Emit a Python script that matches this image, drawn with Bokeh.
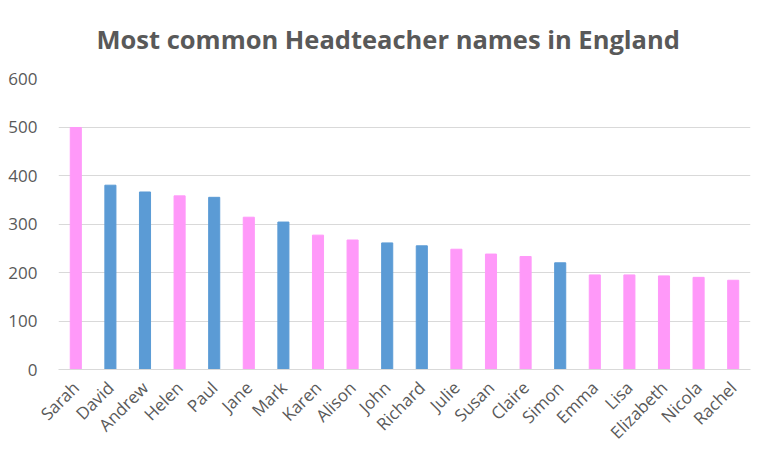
import math
from bokeh.plotting import figure
from bokeh.models import ColumnDataSource, FixedTicker, FactorRange, Range1d
from bokeh.embed import file_html
from bokeh.resources import INLINE

names = ["Sarah", "David", "Andrew", "Helen", "Paul", "Jane", "Mark", "Karen", "Alison", "John",
         "Richard", "Julie", "Susan", "Claire", "Simon", "Emma", "Lisa", "Elizabeth", "Nicola", "Rachel"]
counts = [499, 380, 366, 358, 355, 314, 304, 277, 267, 261,
          255, 248, 238, 233, 220, 195, 195, 193, 190, 184]
gender = ["F", "M", "M", "F", "M", "F", "M", "F", "F", "M",
          "M", "F", "F", "F", "M", "F", "F", "F", "F", "F"]
y_ticks = [0, 100, 200, 300, 400, 500, 600]

PINK = "#FF99F9"
BLUE = "#5B9BD5"
colors = [PINK if g == "F" else BLUE for g in gender]

source = ColumnDataSource(dict(names=names, counts=counts, colors=colors))

p = figure(frame_width=692, frame_height=291, output_backend="svg", toolbar_location=None,
           x_range=FactorRange(factors=names, range_padding=0),
           y_range=Range1d(0, 600),
           title="Most common Headteacher names in England")

p.vbar(x="names", top="counts", width=0.32, color="colors", source=source)

p.title.align = "left"
p.title.offset = 38
p.title.vertical_align = "top"
p.title.text_font = "Open Sans"
p.title.text_font_style = "bold"
p.title.text_font_size = "25.5px"
p.title.text_color = "#595959"
p.title.standoff = 42

p.min_border_top = 78
p.min_border_right = 10
p.min_border_left = 58
p.min_border_bottom = 83
p.outline_line_color = None
p.background_fill_color = "white"

p.xgrid.grid_line_color = None
p.ygrid.grid_line_color = "#D9D9D9"
p.ygrid.grid_line_width = 1

p.yaxis.ticker = FixedTicker(ticks=y_ticks)
p.yaxis.axis_line_color = None
p.yaxis.major_tick_line_color = None
p.yaxis.minor_tick_line_color = None
p.yaxis.major_label_text_font = "Open Sans"
p.yaxis.major_label_text_font_size = "17px"
p.yaxis.major_label_text_color = "#595959"
p.yaxis.major_label_standoff = 15

p.xaxis.axis_line_color = "#D9D9D9"
p.xaxis.major_tick_line_color = None
p.xaxis.minor_tick_line_color = None
p.xaxis.major_label_orientation = math.pi / 4
p.xaxis.major_label_text_font = "Open Sans"
p.xaxis.major_label_text_font_size = "17px"
p.xaxis.major_label_text_color = "#595959"
p.xaxis.major_label_standoff = 9

open("out.html", "w").write(file_html(p, INLINE))
